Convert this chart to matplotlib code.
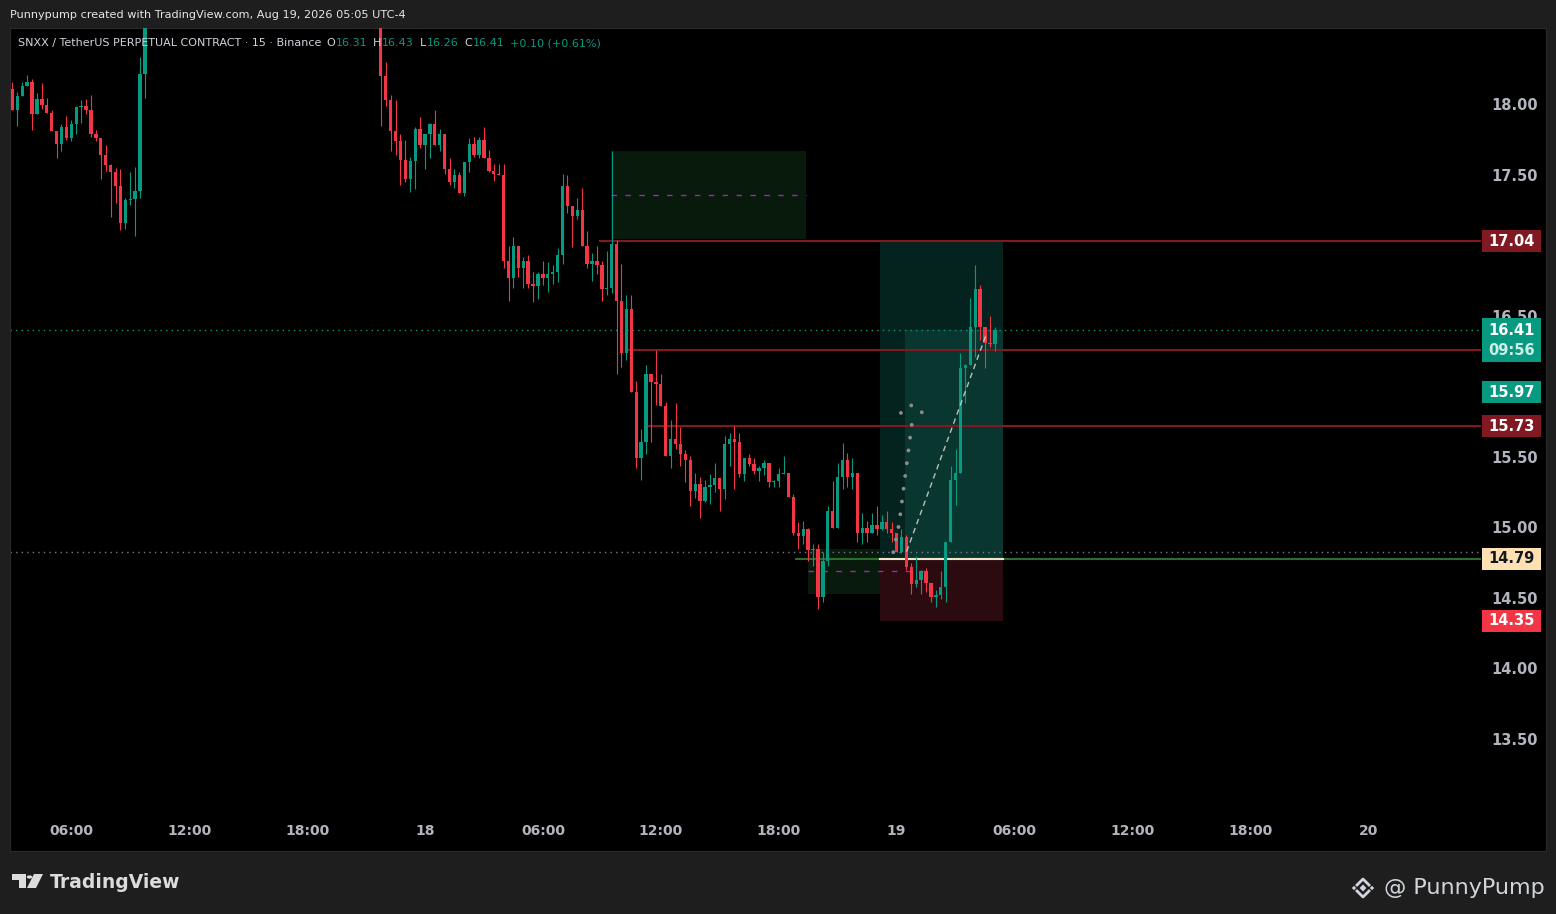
import matplotlib
matplotlib.use('Agg')
import matplotlib.pyplot as plt
from matplotlib.patches import Rectangle, Polygon, Circle
import numpy as np

W, H = 1556, 914
GREEN = '#089981'
RED = '#f23645'
DARK_RED = '#801922'
AXIS_TXT = '#b2b5be'

# 15 minute candles, time in hours from Aug 17 00:00 (UTC-4)
# first block: Aug 17 03:00 .. 09:45 (last candle runs off the top)
seg1_start = 3.0
seg1_open = 18.12
seg1_close = [17.97, 18.07, 18.14, 18.17, 17.94, 18.05, 18.01, 17.95, 17.82, 17.73,
              17.85, 17.77, 17.87, 17.99, 18.00, 17.97, 17.80, 17.77, 17.65, 17.58,
              17.53, 17.43, 17.17, 17.33, 17.34, 17.40, 18.23, 18.75]
seg1_high = [18.17, 18.10, 18.17, 18.22, 18.19, 18.09, 18.16, 18.06, 17.97, 17.82,
             17.87, 17.93, 17.90, 18.00, 18.04, 18.05, 18.08, 17.83, 17.77, 17.72,
             17.59, 17.56, 17.55, 17.35, 17.53, 17.57, 18.35, 18.90]
seg1_low = [17.97, 17.86, 18.07, 18.14, 17.83, 17.94, 17.98, 17.95, 17.82, 17.63,
            17.68, 17.76, 17.75, 17.80, 17.88, 17.94, 17.78, 17.75, 17.48, 17.54,
            17.21, 17.31, 17.12, 17.13, 17.30, 17.08, 17.35, 18.06]

# second block: Aug 17 21:45 .. Aug 19 05:00 (candles in between are above the view)
seg2_start = 21.75
seg2_open = 18.60
seg2_close = [18.21, 18.04, 17.82, 17.75, 17.62, 17.48, 17.61, 17.84, 17.72, 17.80,
              17.87, 17.72, 17.80, 17.55, 17.46, 17.51, 17.38, 17.60, 17.73, 17.65,
              17.76, 17.63, 17.54, 17.52, 17.51, 16.90, 16.78, 17.01, 16.85, 16.90,
              16.74, 16.72, 16.81, 16.78, 16.81, 16.82, 16.94, 17.43, 17.29, 17.22,
              17.26, 17.01, 16.88, 16.90, 16.87, 16.70, 16.71, 17.02, 16.62, 16.25,
              16.56, 15.97, 15.50, 15.62, 16.10, 16.04, 16.03, 15.87, 15.52, 15.64,
              15.60, 15.53, 15.49, 15.27, 15.32, 15.20, 15.30, 15.31, 15.36, 15.28,
              15.60, 15.64, 15.62, 15.39, 15.50, 15.46, 15.41, 15.43, 15.47, 15.33,
              15.34, 15.39, 15.40, 15.23, 14.97, 14.95, 15.00, 14.85, 14.86, 14.52,
              14.77, 15.13, 15.01, 15.37, 15.49, 15.37, 15.40, 14.97, 15.01, 14.97,
              15.03, 15.00, 15.05, 15.00, 14.97, 14.84, 14.94, 14.73, 14.61, 14.64,
              14.70, 14.62, 14.52, 14.53, 14.59, 14.91, 15.35, 15.40, 16.14, 16.16,
              16.43, 16.70, 16.43, 16.32, 16.31, 16.41]
seg2_high = [18.70, 18.31, 18.08, 18.04, 17.80, 17.76, 17.64, 17.85, 17.92, 17.80,
             17.88, 17.97, 17.84, 17.80, 17.63, 17.55, 17.53, 17.60, 17.77, 17.78,
             17.78, 17.85, 17.69, 17.59, 17.59, 17.59, 17.01, 17.07, 17.01, 16.93,
             16.94, 16.82, 16.82, 16.90, 16.89, 16.87, 16.99, 17.52, 17.51, 17.29,
             17.35, 17.42, 17.11, 16.96, 17.01, 16.90, 16.97, 17.68, 17.05, 16.88,
             16.66, 16.66, 16.05, 15.71, 16.16, 16.10, 16.27, 16.10, 15.90, 15.77,
             15.89, 15.72, 15.56, 15.52, 15.40, 15.37, 15.35, 15.39, 15.47, 15.36,
             15.66, 15.68, 15.73, 15.68, 15.50, 15.53, 15.50, 15.45, 15.49, 15.47,
             15.35, 15.43, 15.52, 15.40, 15.25, 15.05, 15.06, 15.01, 14.89, 14.89,
             14.84, 15.16, 15.34, 15.47, 15.61, 15.54, 15.50, 15.40, 15.11, 15.06,
             15.11, 15.16, 15.10, 15.13, 15.05, 14.97, 15.00, 14.96, 14.76, 14.81,
             14.71, 14.72, 14.62, 14.57, 14.70, 14.91, 15.45, 15.57, 16.25, 16.17,
             16.64, 16.87, 16.73, 16.43, 16.51, 16.43]
seg2_low = [17.86, 18.00, 17.68, 17.65, 17.44, 17.46, 17.39, 17.41, 17.70, 17.55,
            17.63, 17.72, 17.68, 17.52, 17.44, 17.42, 17.38, 17.36, 17.53, 17.64,
            17.63, 17.63, 17.53, 17.47, 17.51, 16.85, 16.62, 16.71, 16.79, 16.71,
            16.71, 16.61, 16.63, 16.73, 16.68, 16.74, 16.75, 16.88, 17.24, 17.00,
            17.20, 17.01, 16.85, 16.76, 16.81, 16.62, 16.66, 16.67, 16.10, 16.15,
            16.20, 15.97, 15.43, 15.35, 15.53, 15.62, 15.88, 15.87, 15.52, 15.43,
            15.57, 15.45, 15.33, 15.16, 15.22, 15.08, 15.19, 15.18, 15.26, 15.13,
            15.21, 15.45, 15.28, 15.37, 15.34, 15.45, 15.39, 15.34, 15.38, 15.30,
            15.30, 15.30, 15.40, 15.23, 14.96, 14.86, 14.89, 14.77, 14.74, 14.43,
            14.48, 14.74, 15.01, 15.01, 15.28, 15.30, 15.28, 14.91, 14.89, 14.91,
            14.97, 14.96, 14.99, 14.97, 14.91, 14.84, 14.83, 14.71, 14.54, 14.59,
            14.54, 14.55, 14.48, 14.45, 14.50, 14.48, 14.91, 15.17, 15.40, 15.89,
            16.16, 16.22, 16.34, 16.14, 16.29, 16.26]

time_ticks = [6, 12, 18, 24, 30, 36, 42, 48, 54, 60, 66, 72]
time_labels = ['06:00', '12:00', '18:00', '18', '06:00', '12:00', '18:00', '19',
               '06:00', '12:00', '18:00', '20']
price_ticks = [18.0, 17.5, 16.5, 15.5, 15.0, 14.5, 14.0, 13.5]

last_price = 16.41
countdown = '09:56'
gray_level = 14.84

# horizontal rays: price, start time
red_levels = [17.04, 16.27, 15.73]
red_starts = [32.9, 34.33, 35.4]
green_level = 14.79
green_start = 42.88
ray_end = 77.69

# rectangles with mid line: t0, t1, bottom, top
zones = [(33.46, 43.39, 17.06, 17.68), (43.49, 49.34, 14.54, 14.86)]

# long position tool
pos_t0, pos_t1, pos_active = 47.15, 53.41, 48.43
pos_entry, pos_target, pos_stop = 14.79, 17.04, 14.35

# drawn paths (time, price)
path_t = [47.83, 48.12, 48.85]
path_p = [14.835, 15.03, 15.825]
arc_t = [48.22, 48.73, 49.15, 49.55]
arc_p = [15.823, 15.877, 15.851, 15.78]
proj_t = [48.51, 52.59]
proj_p = [14.84, 16.39]

# price scale labels: price, text, background, text colour
scale_labels = [(17.04, '17.04', DARK_RED, 'white'),
                (15.97, '15.97', GREEN, 'white'),
                (15.73, '15.73', DARK_RED, 'white'),
                (14.79, '14.79', '#ffe0b3', '#131722'),
                (14.35, '14.35', RED, 'white')]

legend_title = 'SNXX / TetherUS PERPETUAL CONTRACT · 15 · Binance'
ohlc_names = ['O', 'H', 'L', 'C']
ohlc_vals = ['16.31', '16.43', '16.26', '16.41']
change_txt = '+0.10 (+0.61%)'


def fx(x):
    return x / W


def fy(y):
    return 1 - y / H


def draw_candles(ax, start, first_open, closes, highs, lows):
    closes = np.array(closes)
    opens = np.concatenate([[first_open], closes[:-1]])
    highs = np.maximum(np.array(highs), np.maximum(opens, closes))
    lows = np.minimum(np.array(lows), np.minimum(opens, closes))
    t = start + 0.25 * np.arange(len(closes))
    cols = [GREEN if c >= o else RED for o, c in zip(opens, closes)]
    ax.vlines(t, lows, highs, colors=cols, lw=0.8, zorder=4)
    heights = np.maximum(np.abs(closes - opens), 0.008)
    ax.bar(t, heights, bottom=np.minimum(opens, closes), width=0.17,
           color=cols, lw=0, zorder=4)


fig = plt.figure(figsize=(W / 100, H / 100), dpi=100, facecolor='#1e1e1e')
ax = fig.add_axes([fx(10), fy(851), 1536 / W, 823 / H])
ax.set_facecolor('black')
ax.set_xlim(2.88, 81.05)
ax.set_ylim(12.716, 18.553)
ax.set_xticks([])
ax.set_yticks([])
for s in ax.spines.values():
    s.set_color('#2a2a2a')

# zones
for t0, t1, b, tp in zones:
    ax.add_patch(Rectangle((t0, b), t1 - t0, tp - b, fc='#071a0c', ec='none', zorder=1))
    ax.plot([t0, t1], [(b + tp) / 2] * 2, color='#9c27b0', lw=1, dashes=(4, 6), zorder=1.5)

# long position
ax.add_patch(Rectangle((pos_t0, pos_entry), pos_t1 - pos_t0, pos_target - pos_entry,
                       fc='#05231e', ec='none', zorder=1))
ax.add_patch(Rectangle((pos_active, pos_entry), pos_t1 - pos_active, last_price - pos_entry,
                       fc='#09372f', ec='none', zorder=1.2))
ax.add_patch(Rectangle((pos_t0, pos_stop), pos_t1 - pos_t0, pos_entry - pos_stop,
                       fc='#2c0b10', ec='none', zorder=1))

# price lines
ax.axhline(last_price, xmax=(1480 - 10) / 1536, color=GREEN, lw=1, ls=(0, (1, 3)), zorder=2)
ax.axhline(gray_level, xmax=(1480 - 10) / 1536, color='#787b86', lw=1, ls=(0, (1, 3)), zorder=2)
for lvl, t0 in zip(red_levels, red_starts):
    ax.plot([t0, ray_end], [lvl, lvl], color=DARK_RED, lw=1.5, zorder=2)
ax.plot([green_start, ray_end], [green_level] * 2, color='#2e6b2e', lw=1.5, zorder=2)
ax.plot([pos_t0, pos_t1], [pos_entry] * 2, color='#eee6cc', lw=1.5, zorder=2.5)

draw_candles(ax, seg1_start, seg1_open, seg1_close, seg1_high, seg1_low)
draw_candles(ax, seg2_start, seg2_open, seg2_close, seg2_high, seg2_low)

# drawings
for tt, pp in [(path_t, path_p), (arc_t, arc_p)]:
    ax.plot(tt, pp, color='#8c8c8c', lw=2.8, ls=(0, (0.01, 3.3)),
            dash_capstyle='round', zorder=5)
ax.plot(proj_t, proj_p, color='#d8d8d8', lw=1, ls=(0, (4, 3)), alpha=0.85, zorder=5)

# axis texts
ytr = ax.get_yaxis_transform()
xtr = ax.get_xaxis_transform()
lx = (1538 - 10) / 1536
for p in price_ticks:
    ax.text(lx, p, f'{p:.2f}', transform=ytr, ha='right', va='center',
            color=AXIS_TXT, fontsize=10.5, fontweight='bold', zorder=6)
for t, lab in zip(time_ticks, time_labels):
    ax.text(t, (851 - 831) / 823, lab, transform=xtr, ha='center', va='center',
            color=AXIS_TXT, fontsize=10, fontweight='bold')

bx0 = (1482 - 10) / 1536
bw = 59 / 1536
half = 11 / 141
tx = (1535 - 10) / 1536
for p, txt, bg, fg in scale_labels:
    ax.add_patch(Rectangle((bx0, p - half), bw, 2 * half, transform=ytr, fc=bg, ec='none',
                           clip_on=False, zorder=7))
    ax.text(tx, p, txt, transform=ytr, ha='right', va='center',
            color=fg, fontsize=10.5, fontweight='bold', zorder=8)
# current price with countdown
ax.add_patch(Rectangle((bx0, last_price - 32 / 141), bw, 44 / 141, transform=ytr, fc=GREEN,
                       ec='none', clip_on=False, zorder=7))
ax.text(tx, last_price, f'{last_price:.2f}', transform=ytr, ha='right',
        va='center', color='white', fontsize=10.5, fontweight='bold', zorder=8)
ax.text(tx, last_price - 20 / 141, countdown, transform=ytr, ha='right',
        va='center', color='#cdeee7', fontsize=10.5, fontweight='bold', zorder=8)

# legend line inside chart, laid out piece by piece
renderer = fig.canvas.get_renderer()
hy = fy(43)
pieces = [(legend_title, '#d1d4dc', 5)]
for n, v in zip(ohlc_names, ohlc_vals):
    pieces += [(n, '#d1d4dc', 0.5), (v, GREEN, 6)]
pieces.append((change_txt, GREEN, 0))
x = 18
for txt, col, gap in pieces:
    t = fig.text(fx(x), hy, txt, color=col, fontsize=8, va='center')
    x += t.get_window_extent(renderer).width + gap

fig.text(fx(10), fy(15), 'Punnypump created with TradingView.com, Aug 19, 2026 05:05 UTC-4',
         color='#e6e6e6', fontsize=8.1, va='center')

# footer: TradingView logo
def px_poly(pts, **kw):
    fig.add_artist(Polygon([(fx(a), fy(b)) for a, b in pts], closed=True,
                           transform=fig.transFigure, **kw))

logo = '#dcdcdc'
px_poly([(12, 874), (26, 874), (26, 888), (19, 888), (19, 880), (12, 880)], fc=logo, ec='none')
fig.add_artist(Circle((fx(29.5), fy(877)), 2.8 / W, transform=fig.transFigure, fc=logo, ec='none'))
px_poly([(34, 874), (43, 874), (36, 888), (27, 888)], fc=logo, ec='none')
fig.text(fx(50), fy(882), 'TradingView', color=logo, fontsize=13.5, fontweight='bold', va='center')

# footer: diamond icon and handle
ic = '#d1d4dc'
cx, cy = 1363, 888
fig.add_artist(Polygon([(fx(cx), fy(cy - 3.5)), (fx(cx + 3.5), fy(cy)), (fx(cx), fy(cy + 3.5)),
                        (fx(cx - 3.5), fy(cy))], transform=fig.transFigure, fc=ic, ec='none'))
for dx in (-9, 9):
    fig.add_artist(Polygon([(fx(cx + dx), fy(cy - 2.2)), (fx(cx + dx + 2.2), fy(cy)),
                            (fx(cx + dx), fy(cy + 2.2)), (fx(cx + dx - 2.2), fy(cy))],
                           transform=fig.transFigure, fc=ic, ec='none'))
for sgn in (-1, 1):
    fig.add_artist(plt.Line2D([fx(cx - 6), fx(cx), fx(cx + 6)],
                              [fy(cy + sgn * 3), fy(cy + sgn * 9), fy(cy + sgn * 3)],
                              transform=fig.transFigure, color=ic, lw=2))
fig.text(fx(1384), fy(888), '@ PunnyPump', color=ic, fontsize=16, va='center')

fig.savefig('out.png', dpi=100, facecolor=fig.get_facecolor())
